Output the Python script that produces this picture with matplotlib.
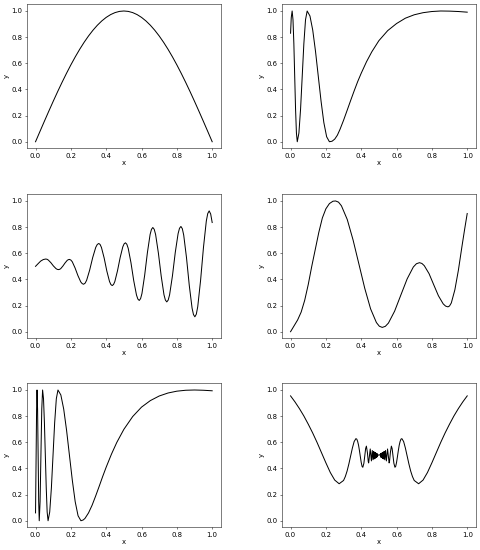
import matplotlib
matplotlib.use("Agg")
import matplotlib.pyplot as plt

plt.rcParams['font.size'] = 11

# panel 1 (top left)
x1 = [0.0, 0.025, 0.05, 0.075, 0.1, 0.125, 0.15, 0.175, 0.2, 0.225, 0.25, 0.275, 0.3, 0.325,
      0.35, 0.375, 0.4, 0.425, 0.45, 0.475, 0.5, 0.525, 0.55, 0.575, 0.6, 0.625, 0.65, 0.675,
      0.7, 0.725, 0.75, 0.775, 0.8, 0.825, 0.85, 0.875, 0.9, 0.925, 0.95, 0.975, 1.0]
y1 = [0.0, 0.0785, 0.1564, 0.2334, 0.309, 0.3827, 0.454, 0.5225, 0.5878, 0.6494, 0.7071, 0.7604,
      0.809, 0.8526, 0.891, 0.9239, 0.9511, 0.9724, 0.9877, 0.9969, 1.0, 0.9969, 0.9877, 0.9724,
      0.9511, 0.9239, 0.891, 0.8526, 0.809, 0.7604, 0.7071, 0.6494, 0.5878, 0.5225, 0.454,
      0.3827, 0.309, 0.2334, 0.1564, 0.0785, 0.0]

# panel 2 (top right)
x2 = [0.0, 0.004, 0.009, 0.0138, 0.0187, 0.0235, 0.0283, 0.0332, 0.038, 0.0473, 0.0567, 0.066,
      0.0753, 0.0847, 0.094, 0.1098, 0.1255, 0.1413, 0.157, 0.1728, 0.1885, 0.2043, 0.22, 0.235,
      0.25, 0.265, 0.28, 0.30, 0.32, 0.34, 0.36, 0.38, 0.40, 0.43, 0.46, 0.50, 0.55, 0.60, 0.65,
      0.70, 0.75, 0.80, 0.85, 0.90, 0.95, 1.0]
y2 = [0.83, 0.95, 1.0, 0.933, 0.75, 0.5, 0.25, 0.067, 0.0, 0.067, 0.25, 0.5, 0.75, 0.933, 1.0,
      0.962, 0.854, 0.691, 0.5, 0.309, 0.146, 0.038, 0.0, 0.004, 0.02, 0.05, 0.095, 0.164, 0.239,
      0.315, 0.389, 0.46, 0.524, 0.612, 0.688, 0.773, 0.85, 0.904, 0.945, 0.971, 0.987, 0.996,
      1.0, 0.999, 0.996, 0.991]

# panel 3 (middle left)
x3 = [0.0, 0.015, 0.029, 0.044, 0.058,
      0.0652, 0.0724, 0.0868, 0.1012, 0.1156, 0.1228, 0.13,
      0.1362, 0.1424, 0.1548, 0.1672, 0.1796, 0.1858, 0.192,
      0.2, 0.208, 0.224, 0.24, 0.256, 0.264, 0.272,
      0.2806, 0.2892, 0.3064, 0.3236, 0.3408, 0.3494, 0.358,
      0.3656, 0.3732, 0.3884, 0.4036, 0.4188, 0.4264, 0.434,
      0.4415, 0.449, 0.464, 0.479, 0.494, 0.5015, 0.509,
      0.5168, 0.5246, 0.5402, 0.5558, 0.5714, 0.5792, 0.587,
      0.5947, 0.6024, 0.6178, 0.6332, 0.6486, 0.6563, 0.664,
      0.6719, 0.6798, 0.6956, 0.7114, 0.7272, 0.7351, 0.743,
      0.751, 0.759, 0.775, 0.791, 0.807, 0.815, 0.823,
      0.8309, 0.8388, 0.8546, 0.8704, 0.8862, 0.8941, 0.902,
      0.9101, 0.9182, 0.9344, 0.9506, 0.9668, 0.9749, 0.983,
      0.9915, 1.0]
y3 = [0.5, 0.521, 0.54, 0.552, 0.556,
      0.554, 0.548, 0.528, 0.503, 0.483, 0.477, 0.475,
      0.477, 0.482, 0.502, 0.526, 0.546, 0.551, 0.553,
      0.548, 0.535, 0.487, 0.429, 0.381, 0.368, 0.363,
      0.371, 0.393, 0.471, 0.567, 0.645, 0.667, 0.675,
      0.667, 0.644, 0.564, 0.464, 0.384, 0.361, 0.353,
      0.361, 0.384, 0.466, 0.567, 0.649, 0.672, 0.68,
      0.669, 0.638, 0.528, 0.391, 0.281, 0.25, 0.239,
      0.253, 0.292, 0.432, 0.604, 0.744, 0.783, 0.797,
      0.783, 0.743, 0.6, 0.425, 0.282, 0.242, 0.228,
      0.242, 0.283, 0.427, 0.606, 0.75, 0.791, 0.805,
      0.788, 0.739, 0.566, 0.353, 0.18, 0.131, 0.114,
      0.134, 0.191, 0.394, 0.644, 0.847, 0.904, 0.924,
      0.9, 0.835]

# panel 4 (middle right)
x4 = [0.0, 0.02, 0.04, 0.06, 0.08, 0.10, 0.12, 0.14, 0.16, 0.18, 0.20, 0.22, 0.24, 0.255, 0.2715,
      0.288, 0.321, 0.354, 0.387, 0.42, 0.453, 0.486, 0.5025, 0.519, 0.5365, 0.554, 0.589, 0.6245,
      0.66, 0.695, 0.7125, 0.73, 0.7435, 0.757, 0.784, 0.8105, 0.837, 0.864, 0.8775, 0.891, 0.90,
      0.91, 0.93, 0.95, 0.97, 0.985, 1.0]
y4 = [0.0, 0.045, 0.09, 0.15, 0.24, 0.36, 0.5, 0.63, 0.76, 0.87, 0.94, 0.98, 0.998, 1.0, 0.991,
      0.963, 0.858, 0.701, 0.517, 0.332, 0.175, 0.07, 0.042, 0.033, 0.041, 0.066, 0.157, 0.281,
      0.404, 0.495, 0.52, 0.528, 0.522, 0.505, 0.444, 0.359, 0.275, 0.213, 0.196, 0.19, 0.197,
      0.22, 0.32, 0.47, 0.65, 0.78, 0.904]

# panel 5 (bottom left)
x5 = [0.0, 0.003, 0.006, 0.0085, 0.0116, 0.0148, 0.0179, 0.021, 0.0258, 0.0305, 0.0353, 0.04,
      0.0452, 0.0503, 0.0555, 0.0607, 0.0658, 0.071, 0.0803, 0.0897, 0.099, 0.1083, 0.1177, 0.127,
      0.1433, 0.1595, 0.1758, 0.192, 0.2083, 0.2245, 0.2408, 0.257, 0.27, 0.28, 0.30, 0.32, 0.34,
      0.36, 0.38, 0.40, 0.43, 0.46, 0.50, 0.55, 0.60, 0.65, 0.70, 0.75, 0.80, 0.85, 0.90, 0.95, 1.0]
y5 = [0.06, 0.45, 0.85, 1.0, 0.854, 0.5, 0.146, 0.0, 0.146, 0.5, 0.854, 1.0, 0.933, 0.75, 0.5,
      0.25, 0.067, 0.0, 0.067, 0.25, 0.5, 0.75, 0.933, 1.0, 0.962, 0.854, 0.691, 0.5, 0.309, 0.146,
      0.038, 0.0, 0.006, 0.018, 0.06, 0.118, 0.188, 0.262, 0.338, 0.41, 0.51, 0.599, 0.699, 0.797,
      0.869, 0.919, 0.954, 0.977, 0.991, 0.998, 1.0, 0.998, 0.994]

# panel 6 (bottom right)
x6 = [0.0, 0.025, 0.05, 0.075, 0.1, 0.125, 0.15, 0.175, 0.2, 0.225, 0.25, 0.275, 0.3, 0.31, 0.32,
      0.33, 0.34, 0.35, 0.36, 0.37, 0.375, 0.38, 0.385, 0.39, 0.395, 0.4, 0.405, 0.4091, 0.415,
      0.42, 0.425, 0.4293, 0.435, 0.44, 0.4421, 0.451, 0.4576, 0.4626, 0.4665, 0.4697, 0.4723,
      0.4745, 0.4764, 0.478, 0.4795, 0.4807, 0.4818, 0.4828, 0.4837, 0.4845, 0.4852, 0.4859,
      0.4865, 0.487, 0.4875, 0.488, 0.4884, 0.4888, 0.4892, 0.4896, 0.5,
      0.5104, 0.5108, 0.5112, 0.5116, 0.512, 0.5125, 0.513, 0.5135, 0.5141, 0.5148, 0.5155,
      0.5163, 0.5172, 0.5182, 0.5193, 0.5205, 0.522, 0.5236, 0.5255, 0.5277, 0.5303, 0.5335,
      0.5374, 0.5424, 0.549, 0.5579, 0.56, 0.565, 0.5707, 0.575, 0.58, 0.585, 0.5909, 0.595, 0.6,
      0.605, 0.61, 0.615, 0.62, 0.625, 0.63, 0.64, 0.65, 0.66, 0.67, 0.68, 0.69, 0.7, 0.725, 0.75,
      0.775, 0.8, 0.825, 0.85, 0.875, 0.9, 0.925, 0.95, 0.975, 1.0]
y6 = [0.955, 0.909, 0.858, 0.802, 0.739, 0.672, 0.599, 0.521, 0.443, 0.369, 0.311, 0.283, 0.308,
      0.338, 0.38, 0.434, 0.495, 0.556, 0.606, 0.628, 0.624, 0.606, 0.577, 0.536, 0.49, 0.446,
      0.415, 0.409, 0.439, 0.495, 0.552, 0.5707, 0.521, 0.451, 0.4421, 0.549, 0.4576, 0.5374,
      0.4665, 0.5303, 0.4723, 0.5255, 0.4764, 0.522, 0.4795, 0.5193, 0.4818, 0.5172, 0.4837,
      0.5155, 0.4852, 0.5141, 0.4865, 0.513, 0.4875, 0.512, 0.4884, 0.5112, 0.4892, 0.5104, 0.5,
      0.5104, 0.4892, 0.5112, 0.4884, 0.512, 0.4875, 0.513, 0.4865, 0.5141, 0.4852, 0.5155,
      0.4837, 0.5172, 0.4818, 0.5193, 0.4795, 0.522, 0.4764, 0.5255, 0.4723, 0.5303, 0.4665,
      0.5374, 0.4576, 0.549, 0.4421, 0.451, 0.521, 0.5707, 0.552, 0.495, 0.439, 0.409, 0.415,
      0.446, 0.49, 0.536, 0.577, 0.606, 0.624, 0.628, 0.606, 0.556, 0.495, 0.434, 0.38, 0.338,
      0.308, 0.283, 0.311, 0.369, 0.443, 0.521, 0.599, 0.672, 0.739, 0.802, 0.858, 0.909, 0.955]

series = [(x1, y1), (x2, y2), (x3, y3), (x4, y4), (x5, y5), (x6, y6)]

dpi = 45
fig = plt.figure(figsize=(481 / dpi, 550 / dpi), dpi=dpi)

lefts = [0.0555, 0.5857]
bottoms = [0.7304, 0.385, 0.0413]
w, h = 0.404, 0.2615

for i, (xs, ys) in enumerate(series):
    r, c = divmod(i, 2)
    ax = fig.add_axes([lefts[c], bottoms[r], w, h])
    ax.plot(xs, ys, color='k', linewidth=1.6)
    ax.set_xlim(-0.05, 1.05)
    ax.set_ylim(-0.05, 1.05)
    ax.set_xticks([0.0, 0.2, 0.4, 0.6, 0.8, 1.0])
    ax.set_yticks([0.0, 0.2, 0.4, 0.6, 0.8, 1.0])
    ax.set_xlabel('x', labelpad=1.5)
    ax.set_ylabel('y', labelpad=3)

fig.savefig('out.png', dpi=dpi)
